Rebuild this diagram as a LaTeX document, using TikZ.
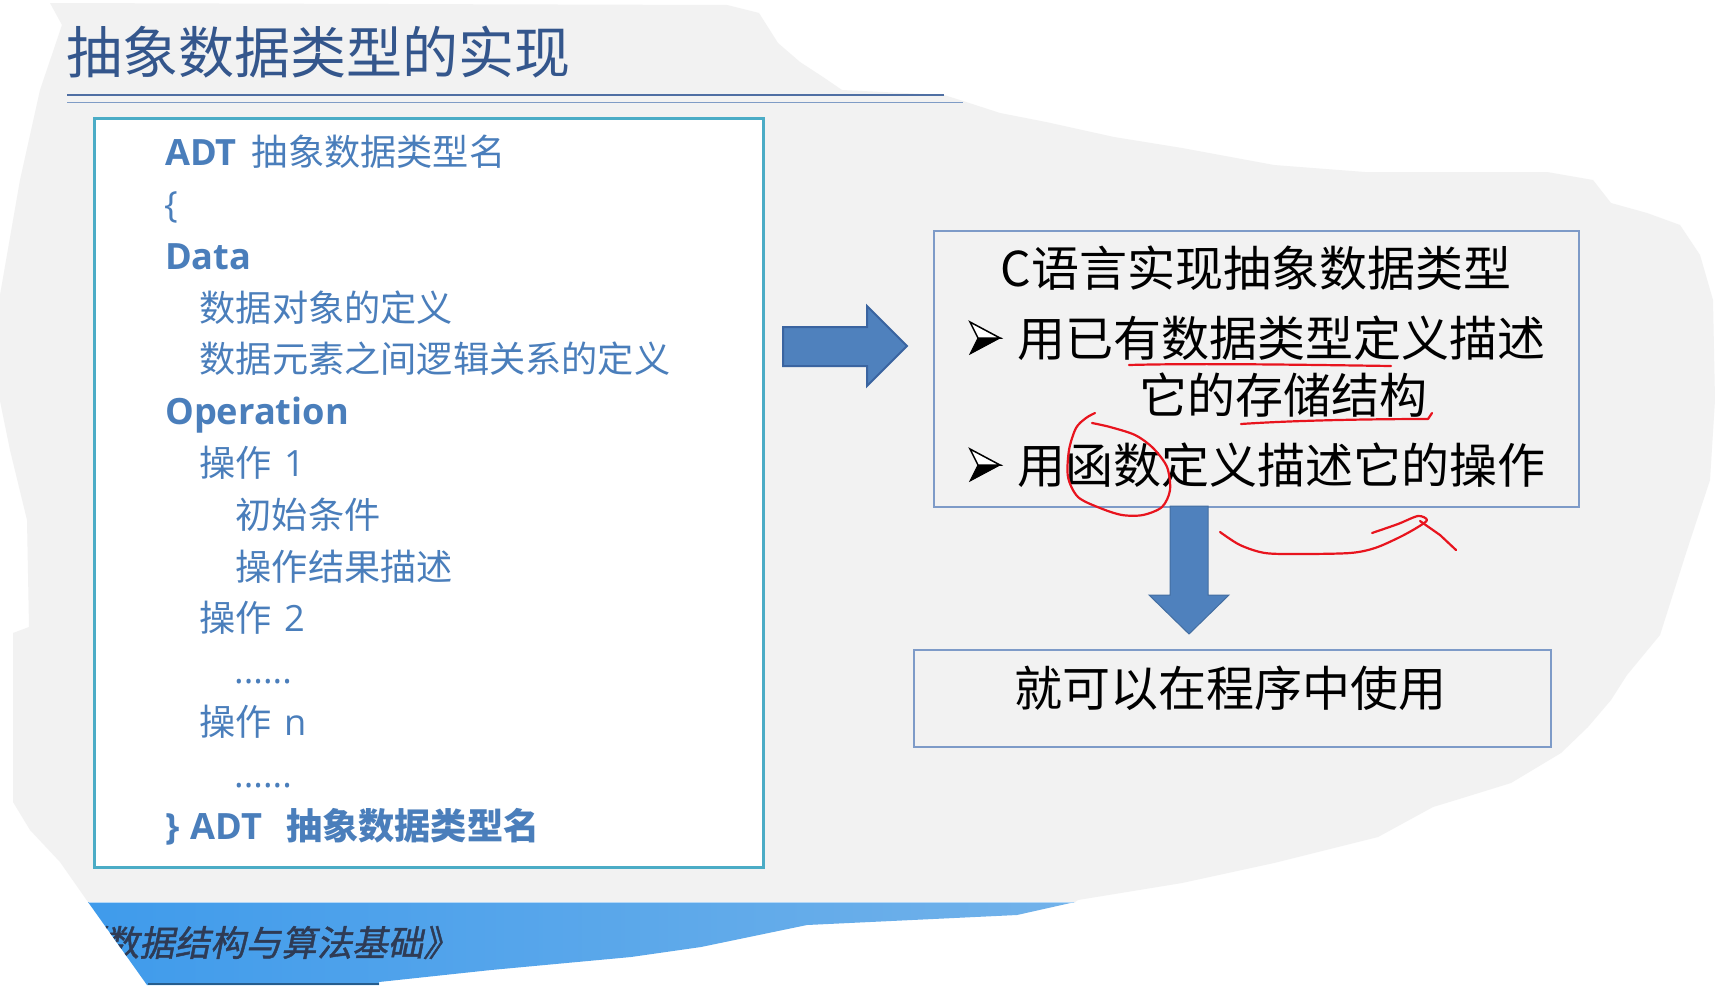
\documentclass[tikz,border=0pt]{standalone}
\usepackage{fontspec}
\setmainfont{Open Sans}
\newfontfamily\cjk{Noto Sans CJK SC}
\newfontfamily\cjkslant{Noto Sans CJK SC}[FakeSlant=0.2,FakeBold=1.2]
\usetikzlibrary{calc}
\definecolor{bggrey}{HTML}{F2F2F2}
\definecolor{titleblue}{HTML}{34568C}
\definecolor{adtblue}{HTML}{4A7EBB}
\definecolor{tealframe}{HTML}{4BACC6}
\definecolor{boxframe}{HTML}{7E9BC8}
\definecolor{arrowfill}{HTML}{4F81BD}
\definecolor{arrowedge}{HTML}{3A64A0}
\definecolor{bandleft}{HTML}{3F9BEB}
\definecolor{bandright}{HTML}{72B2EA}
\definecolor{footertext}{HTML}{2E3B55}
\definecolor{inkred}{HTML}{E8141E}
\definecolor{ruledark}{HTML}{4F6FA3}
\definecolor{rulelight}{HTML}{7F9CC6}
\tikzset{
  adt/.style={anchor=base west, inner sep=0pt, text=adtblue, font=\fontsize{36.2}{40}\selectfont},
  rtext/.style={inner sep=0pt, text=black, font=\cjk\fontsize{48}{52}\selectfont},
  framebox/.style={draw=boxframe, line width=2pt},
  blockarrow/.style={fill=arrowfill, draw=arrowedge, line width=2pt, line join=miter},
  blockarrowflat/.style={fill=arrowfill, draw=arrowfill!85!black, line width=1pt, line join=miter},
  ink/.style={draw=inkred, line width=2.2pt, line cap=round, line join=round},
  arrowbullet/.pic={
    \filldraw[black, line width=1pt, line join=miter] (0,16) -- (30,0) -- (8,0) -- cycle;
    \filldraw[fill=white, draw=black, line width=1.5pt, line join=miter] (0,-16) -- (30,0) -- (8,0) -- cycle;
  }
}
\begin{document}
\begin{tikzpicture}[x=1pt,y=-1pt]
\useasboundingbox (0,0) rectangle (1715,985);
\fill[white] (0,0) rectangle (1715,985);
% torn grey background
\fill[bggrey] (50,3) -- (727,5) -- (759,13) -- (778,43) -- (800,62) -- (823,77) -- (842,90)
 -- (944,95) -- (963,101) -- (1000,113) -- (1046,122) -- (1114,137) -- (1182,148) -- (1274,165)
 -- (1365,172) -- (1547,172) -- (1593,180) -- (1611,203) -- (1647,213) -- (1680,225) -- (1700,255)
 -- (1713,300) -- (1715,400) -- (1710,480) -- (1687,550) -- (1660,635) -- (1627,675) -- (1611,700)
 -- (1588,727) -- (1561,753) -- (1511,783) -- (1456,800) -- (1433,807) -- (1378,837) -- (1274,863)
 -- (1182,883) -- (1078,900) -- (1075,902) -- (88,902) -- (60,862) -- (30,830) -- (13,802)
 -- (13,633) -- (29,627) -- (27,520) -- (10,450) -- (0,401) -- (0,295) -- (20,180) -- (40,90)
 -- (62,25) -- cycle;
% footer band
\shade[left color=bandleft, right color=bandright] (88,902) -- (1075,902) -- (1017,915) -- (807,925)
 -- (701,947) -- (631,957) -- (491,970) -- (379,982) -- (379,985) -- (147,985) -- cycle;
\draw[line width=1pt, color=bandleft!40!white] (89,902.5) -- (1074,902.5);
\draw[line width=2pt, color=bandleft!60!black] (148,984) -- (379,984);
\begin{scope}
\clip (88,902) -- (1075,902) -- (1017,915) -- (807,925) -- (701,947) -- (631,957) -- (491,970)
 -- (379,982) -- (379,985) -- (147,985) -- cycle;
\node[anchor=base west, inner sep=0pt, text=footertext, font=\cjkslant\fontsize{35.5}{38}\selectfont] (footer) at (68,956) {《数据结构与算法基础》};
\end{scope}
% title
\node[anchor=base west, inner sep=0pt, text=titleblue, font=\cjk\fontsize{56}{60}\selectfont] (title) at (66,73) {抽象数据类型的实现};
\draw[line width=2.5pt, color=ruledark] (67,95) -- (944,95);
\draw[line width=1.2pt, color=rulelight] (67,102.5) -- (963,102.5);
% ADT box
\node[draw=tealframe, line width=3pt, fill=white, minimum width=669pt, minimum height=749pt, anchor=north west, inner sep=0pt] (adtbox) at (93,117) {};
\node[adt] (l0) at (165,165.6) {\bfseries ADT\hspace{15pt}{\cjk\mdseries 抽象数据类型名}};
\node[adt] (l1) at (164,217.4) {\{};
\node[adt] (l2) at (165,269.2) {\bfseries Data};
\node[adt] (l3) at (199.5,321) {\cjk 数据对象的定义};
\node[adt] (l4) at (199.5,372.8) {\cjk 数据元素之间逻辑关系的定义};
\node[adt] (l5) at (165,424.6) {\bfseries Operation};
\node[adt] (l6) at (199.5,476.4) {{\cjk 操作}\hspace{12pt}1};
\node[adt] (l7) at (235.5,528.2) {\cjk 初始条件};
\node[adt] (l8) at (235.5,580) {\cjk 操作结果描述};
\node[adt] (l9) at (199.5,631.8) {{\cjk 操作}\hspace{12pt}2};
\node[adt] (l10) at (234,683.6) {......};
\node[adt] (l11) at (199.5,735.4) {{\cjk 操作}\hspace{12pt}n};
\node[adt] (l12) at (234,787.2) {......};
\node[adt] (l13) at (165,839) {\bfseries \}\hspace{11pt}ADT\hspace{24pt}{\cjk 抽象数据类型名}};
% right arrow
\draw[blockarrow] (783,327) -- (867,327) -- (867,306) -- (907,346) -- (867,386) -- (867,366) -- (783,366) -- cycle;
% implementation box
\node[framebox, minimum width=645pt, minimum height=276pt, anchor=north west, inner sep=0pt] (impl) at (933,230) {};
\node[rtext, anchor=base] (t1) at (1256,286) {C语言实现抽象数据类型};
\pic at (970,338) {arrowbullet};
\node[rtext, anchor=base west] (t2) at (1017,356) {用已有数据类型定义描述};
\node[rtext, anchor=base west] (t3) at (1139,413) {它的存储结构};
\pic at (970,465) {arrowbullet};
\node[rtext, anchor=base west] (t4) at (1017,483) {用函数定义描述它的操作};
% down arrow
\draw[blockarrowflat] (1170,506) -- (1208,506) -- (1208,595) -- (1229,595) -- (1189,634) -- (1149,595) -- (1170,595) -- cycle;
% bottom box
\node[framebox, minimum width=637pt, minimum height=97pt, anchor=north west, inner sep=0pt] (use) at (913,649) {};
\node[rtext, anchor=base] (usetext) at (1230,706) {就可以在程序中使用};
% red hand annotations
\draw[ink] (1129,365) .. controls (1200,363) and (1320,365) .. (1391,366);
\draw[ink] (1241,424) .. controls (1300,420) and (1380,419) .. (1428,419) -- (1432,413);
\draw[ink] plot[smooth] coordinates {(1095,413) (1086,418) (1076,428) (1069,450) (1068,477) (1078,497) (1100,508) (1122,515) (1143,515) (1162,507) (1170,490) (1167,467) (1153,448) (1135,435) (1110,427) (1092,423)};
\draw[ink] plot[smooth] coordinates {(1220,532) (1240,545) (1265,553) (1300,554) (1350,553) (1375,548) (1400,537) (1418,527) (1427,520) (1418,516) (1398,524) (1372,533)};
\draw[ink] (1420,521) -- (1440,535) -- (1456,550);
\end{tikzpicture}
\end{document}
